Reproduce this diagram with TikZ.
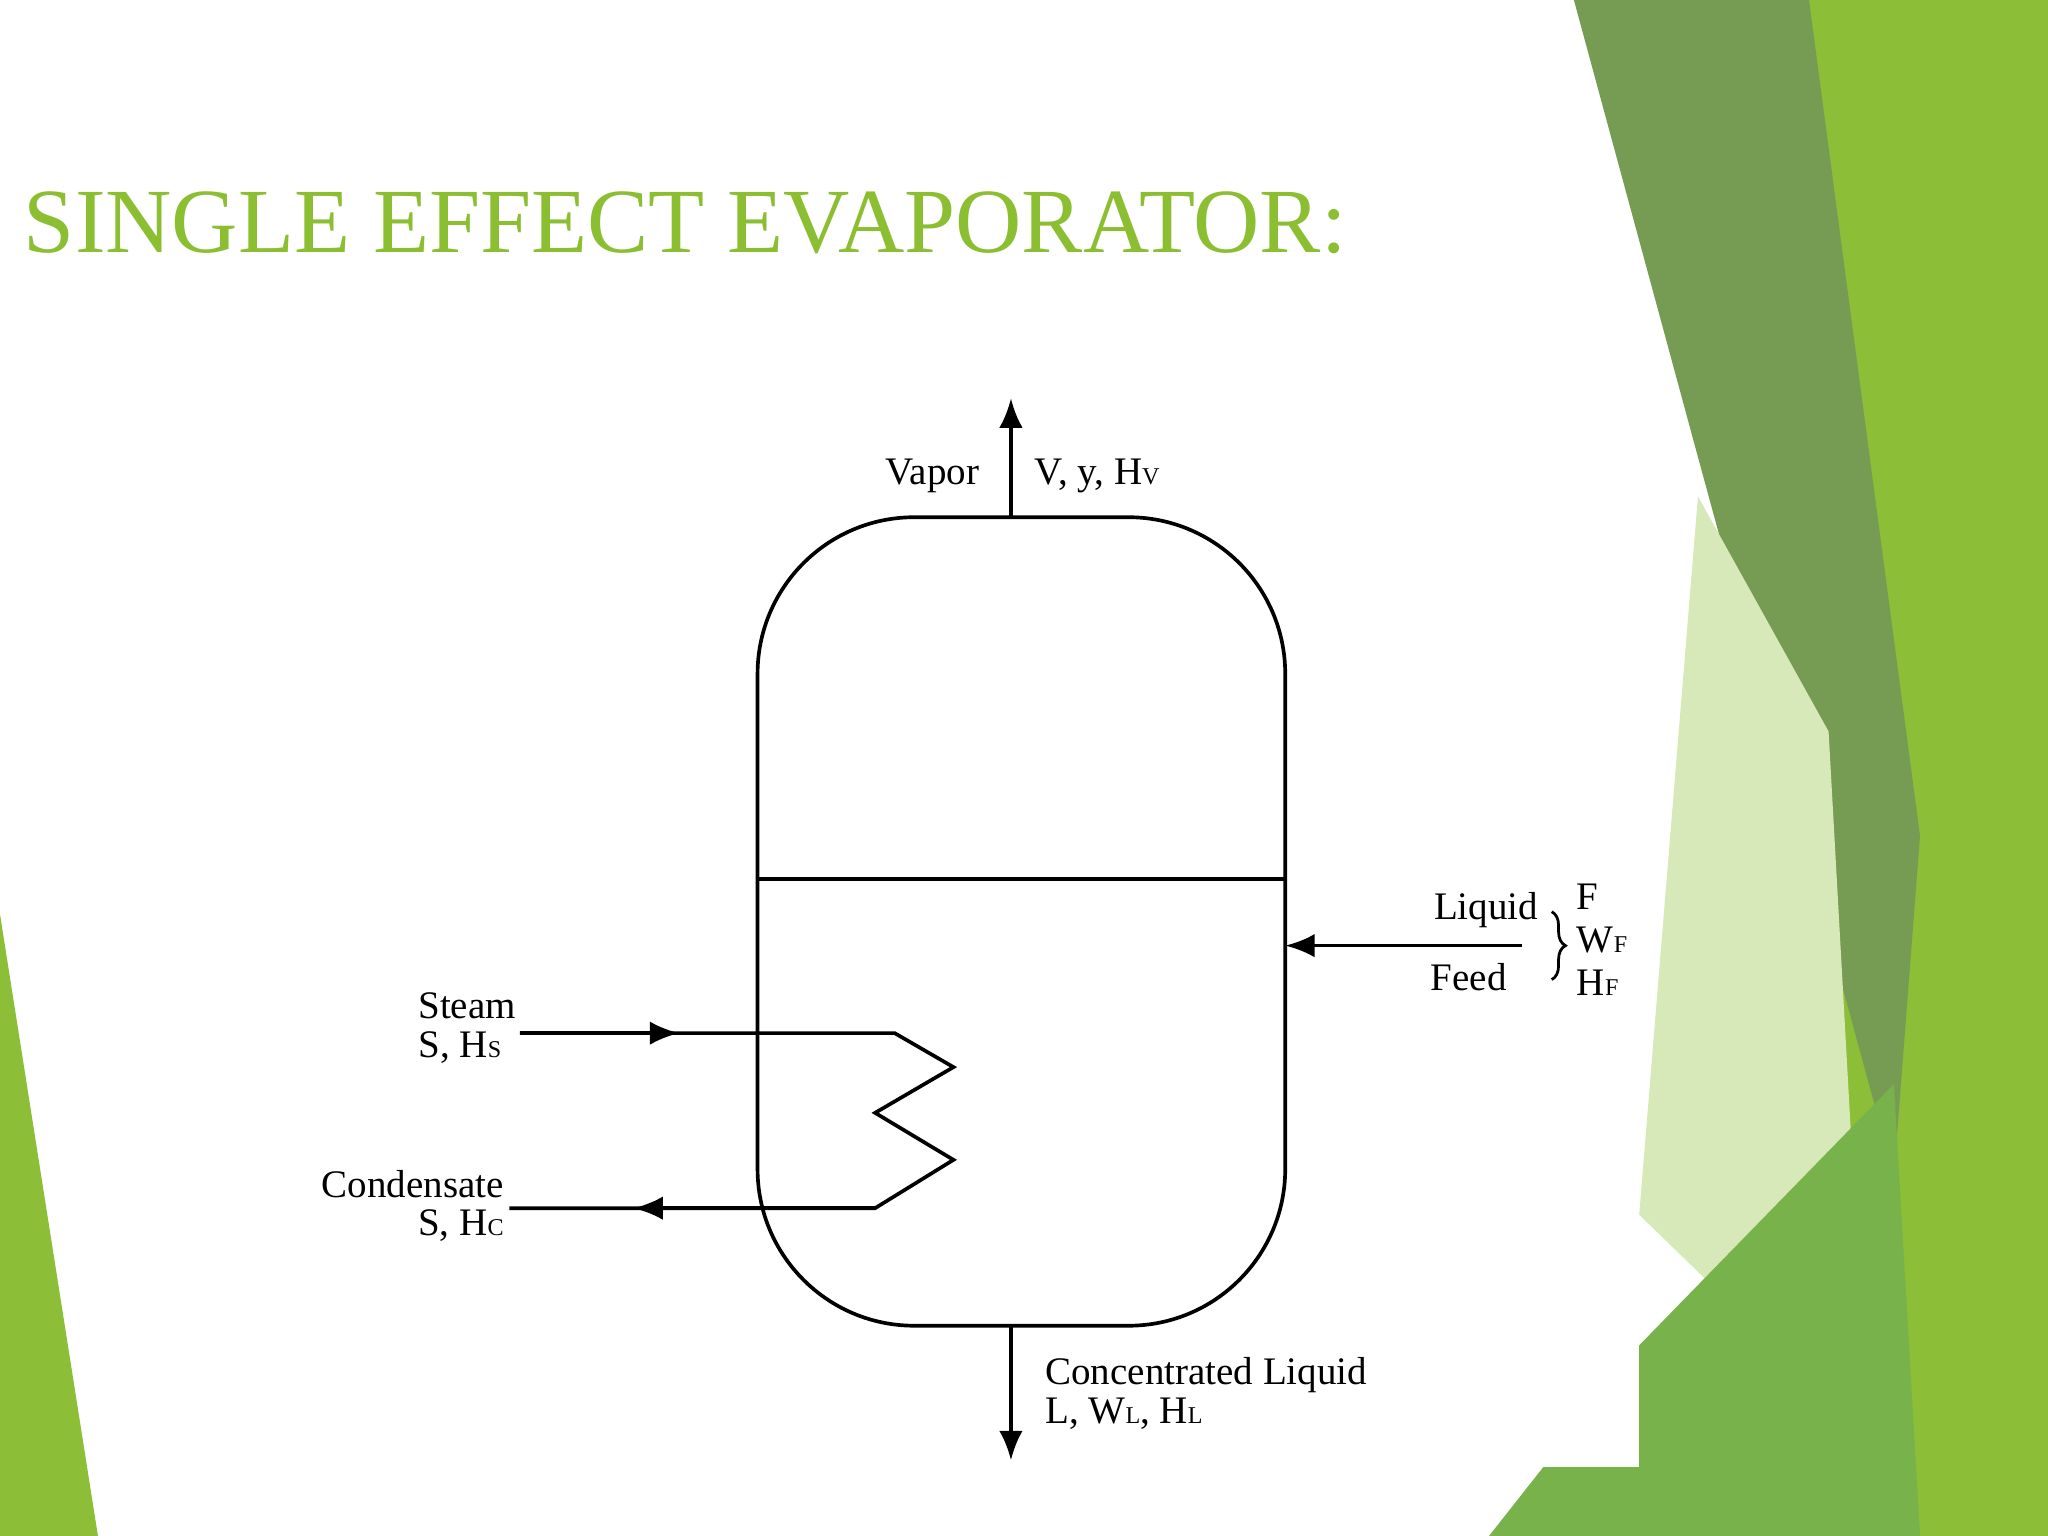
\documentclass[tikz,border=0pt]{standalone}
\usepackage{fontspec}
\setmainfont{Liberation Serif}
\usetikzlibrary{arrows.meta,decorations.pathreplacing}
\definecolor{titlegreen}{RGB}{140,190,50}
\definecolor{olive}{RGB}{118,155,82}
\definecolor{bright}{RGB}{140,190,55}
\definecolor{midg}{RGB}{120,178,75}
\definecolor{pale}{RGB}{215,232,185}
\newcommand{\subsm}[1]{{\fontsize{10.5}{10}\selectfont #1}}
\begin{document}
\begin{tikzpicture}[x=0.02cm,y=-0.02cm,
  ln/.style={line width=1.6pt},
  tip/.style={-{Latex[length=0.45cm,width=0.36cm]}},
  lbl/.style={font=\fontsize{17}{19}\selectfont,inner sep=0pt}]
\useasboundingbox (0,0) rectangle (1568,1176);
% decorative background
\fill[bright] (0,700) -- (75,1176) -- (0,1176) -- cycle;
\fill[bright] (1385,0) -- (1568,0) -- (1568,1176) -- (1420,1176) -- cycle;
\fill[olive] (1205,0) -- (1385,0) -- (1470,640) -- (1450,900) -- (1300,350) -- cycle;
\fill[pale] (1300,380) -- (1400,560) -- (1430,1100) -- (1255,930) -- cycle;
\fill[midg] (1255,1030) -- (1450,830) -- (1470,1176) -- (1140,1176) -- cycle;
\fill[white] (150,210) rectangle (1255,1123);
% title
\node[anchor=base west,inner sep=0pt,text=titlegreen,font=\fontsize{40}{44}\selectfont] (title) at (18,193) {SINGLE EFFECT EVAPORATOR:};
% vessel
\draw[ln,rounded corners=2.4cm] (580,396) rectangle (984,1015);
\draw[ln] (580,673) -- (984,673);
\coordinate (vtop) at (774,396);
\coordinate (vout) at (774,305);
\coordinate (vbot) at (774,1015);
\coordinate (lout) at (774,1118);
\draw[ln,tip] (vtop) -- (vout);
\draw[ln,tip] (vbot) -- (lout);
\node[lbl,anchor=base east] (vap) at (750,371) {Vapor};
\node[lbl,anchor=base west] (vyh) at (792,371) {V, y, H\subsm{V}};
% feed
\coordinate (fin) at (1165,724);
\coordinate (fwall) at (984,724);
\draw[ln,tip] (fin) -- (fwall);
\node[lbl,anchor=base east] (liq) at (1178,704) {Liquid};
\node[lbl,anchor=base west] (feed) at (1095,758) {Feed};
\draw[line width=1.2pt,decorate,decoration={brace,amplitude=6pt}] (1188,698) -- (1188,750);
\node[lbl,anchor=base west] (f1) at (1207,696) {F};
\node[lbl,anchor=base west] (f2) at (1207,729) {W\subsm{F}};
\node[lbl,anchor=base west] (f3) at (1207,762) {H\subsm{F}};
% steam coil
\coordinate (sin) at (398,791);
\coordinate (smid) at (520,791);
\coordinate (c1) at (685,791);
\coordinate (cout) at (390,925);
\coordinate (cmid) at (485,925);
\draw[ln] (sin) -- (c1) -- (730,817) -- (670,852) -- (730,888) -- (670,925) -- (cout);
\draw[ln,tip] (sin) -- (smid);
\draw[ln,tip] (670,925) -- (cmid);
\node[lbl,anchor=base west] (st) at (320,780) {Steam};
\node[lbl,anchor=base west] (sh) at (320,810) {S, H\subsm{S}};
\node[lbl,anchor=base east] (cd) at (386,917) {Condensate};
\node[lbl,anchor=base east] (ch) at (386,946) {S, H\subsm{C}};
\node[lbl,anchor=base west] (cl) at (800,1060) {Concentrated Liquid};
\node[lbl,anchor=base west] (cl2) at (800,1090) {L, W\subsm{L}, H\subsm{L}};
\end{tikzpicture}
\end{document}
